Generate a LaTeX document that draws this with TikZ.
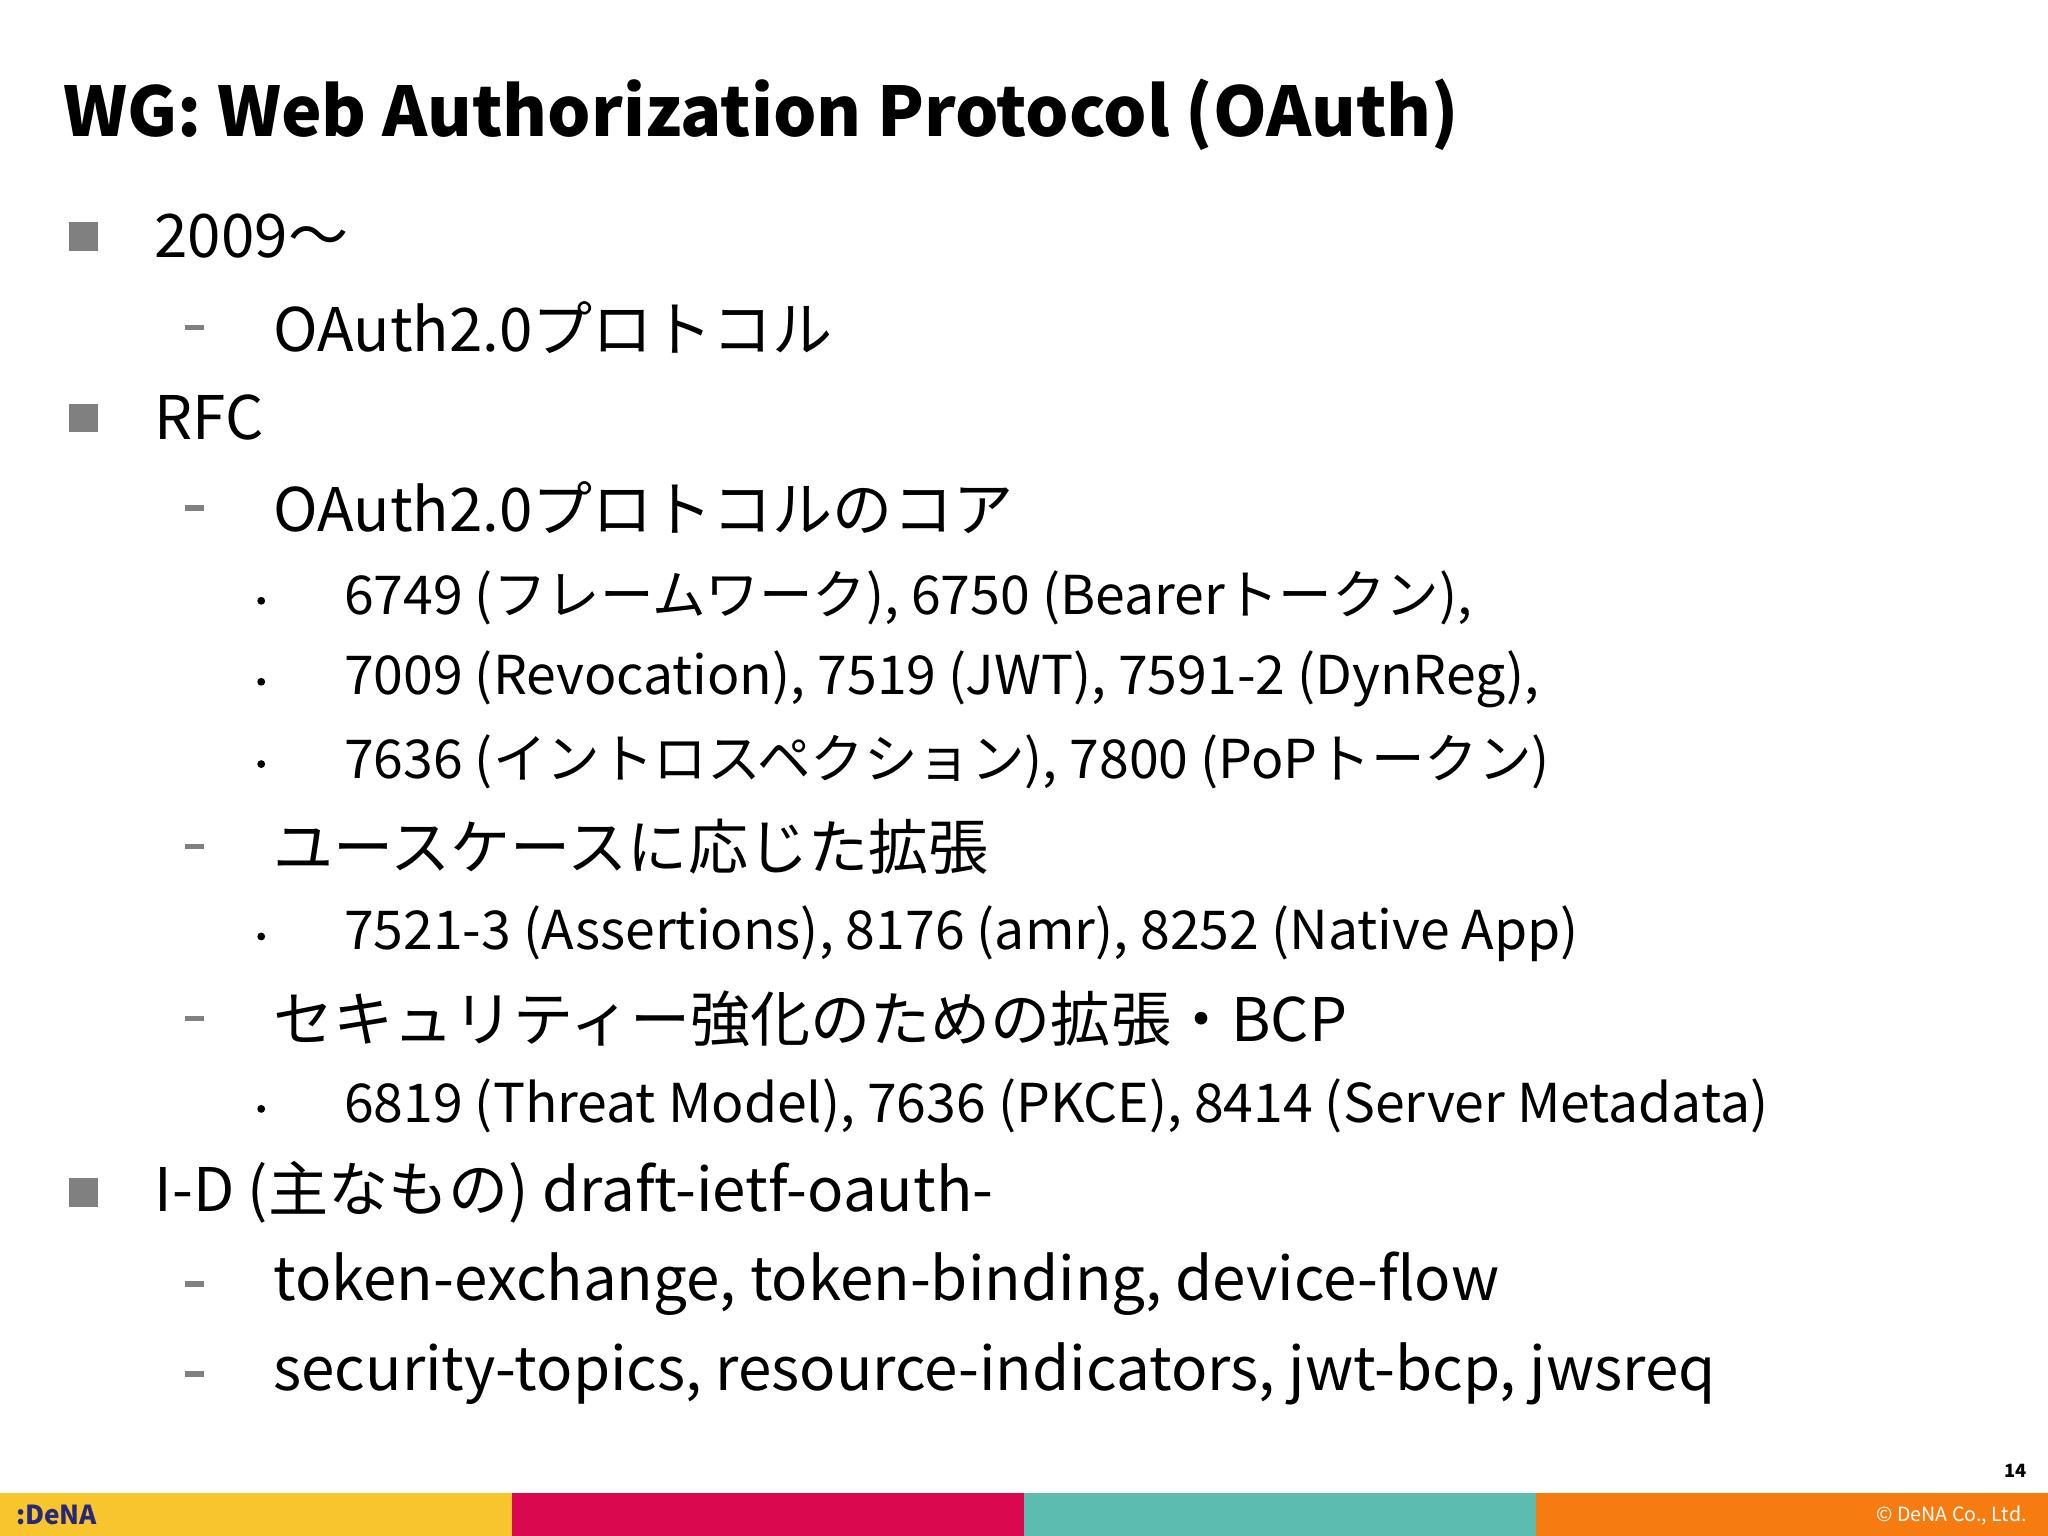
\documentclass[tikz,border=0pt]{standalone}
\usepackage{fontspec}
\setmainfont{Noto Sans CJK JP}
\begin{document}
\begin{tikzpicture}[x=0.5pt,y=-0.5pt,
  t1/.style={anchor=west,inner sep=0,font=\fontsize{23}{23}\selectfont},
  t2/.style={anchor=west,inner sep=0,font=\fontsize{23}{23}\selectfont},
  t3/.style={anchor=west,inner sep=0,font=\fontsize{20.5}{20.5}\selectfont},
  sq/.style={fill=black!50,draw=none,minimum size=11pt,inner sep=0},
  dsh/.style={fill=black!50,draw=none,minimum width=7pt,minimum height=2pt,inner sep=0},
  dot/.style={fill=black,draw=none,circle,minimum size=3pt,inner sep=0}]
\useasboundingbox[fill=white] (0,0) rectangle (1568,1176);
\node[anchor=west,inner sep=0,font=\bfseries\fontsize{26.2}{26.2}\selectfont] (title) at (48,88) {WG: Web Authorization Protocol (OAuth)};
\node[sq] (s1) at (64,181) {}; \node[t1] (a1) at (118,181) {2009～};
\node[dsh] (d1) at (149,251) {}; \node[t2] (b1) at (209,251) {OAuth2.0プロトコル};
\node[sq] (s2) at (64,320) {}; \node[t1] (a2) at (118,320) {RFC};
\node[dsh] (d2) at (149,389) {}; \node[t2] (b2) at (209,389) {OAuth2.0プロトコルのコア};
\node[dot] (p1) at (200,460) {}; \node[t3] (c1) at (263,458) {6749 (フレームワーク), 6750 (Bearerトークン),};
\node[dot] (p2) at (200,522) {}; \node[t3] (c2) at (263,520) {7009 (Revocation), 7519 (JWT), 7591-2 (DynReg),};
\node[dot] (p3) at (200,585) {}; \node[t3] (c3) at (263,583) {7636 (イントロスペクション), 7800 (PoPトークン)};
\node[dsh] (d3) at (149,648) {}; \node[t2] (b3) at (209,648) {ユースケースに応じた拡張};
\node[dot] (p4) at (200,717) {}; \node[t3] (c4) at (263,715) {7521-3 (Assertions), 8176 (amr), 8252 (Native App)};
\node[dsh] (d4) at (149,780) {}; \node[t2] (b4) at (209,780) {セキュリティー強化のための拡張・BCP};
\node[dot] (p5) at (200,849) {}; \node[t3] (c5) at (263,847) {6819 (Threat Model), 7636 (PKCE), 8414 (Server Metadata)};
\node[sq] (s3) at (64,913) {}; \node[t1] (a3) at (118,913) {I-D (主なもの) draft-ietf-oauth-};
\node[dsh] (d5) at (149,983) {}; \node[t2] (b5) at (209,983) {token-exchange, token-binding, device-flow};
\node[dsh] (d6) at (149,1052) {}; \node[t2] (b6) at (209,1052) {security-topics, resource-indicators, jwt-bcp, jwsreq};
\fill[fill={rgb,255:red,249;green,197;blue,46}] (0,1143) rectangle (392,1176);
\fill[fill={rgb,255:red,218;green,8;blue,78}] (392,1143) rectangle (784,1176);
\fill[fill={rgb,255:red,92;green,188;blue,176}] (784,1143) rectangle (1176,1176);
\fill[fill={rgb,255:red,246;green,124;blue,18}] (1176,1143) rectangle (1568,1176);
\node[anchor=west,inner sep=0,font=\bfseries\fontsize{10}{10}\selectfont,text={rgb,255:red,40;green,40;blue,120}] (logo) at (12,1160) {:DeNA};
\node[anchor=east,inner sep=0,text=white,font=\fontsize{7.5}{7.5}\selectfont] (copy) at (1552,1160) {©\ DeNA Co., Ltd.};
\node[anchor=east,inner sep=0,font=\bfseries\fontsize{7}{7}\selectfont] (pg) at (1552,1126) {14};
\end{tikzpicture}
\end{document}
